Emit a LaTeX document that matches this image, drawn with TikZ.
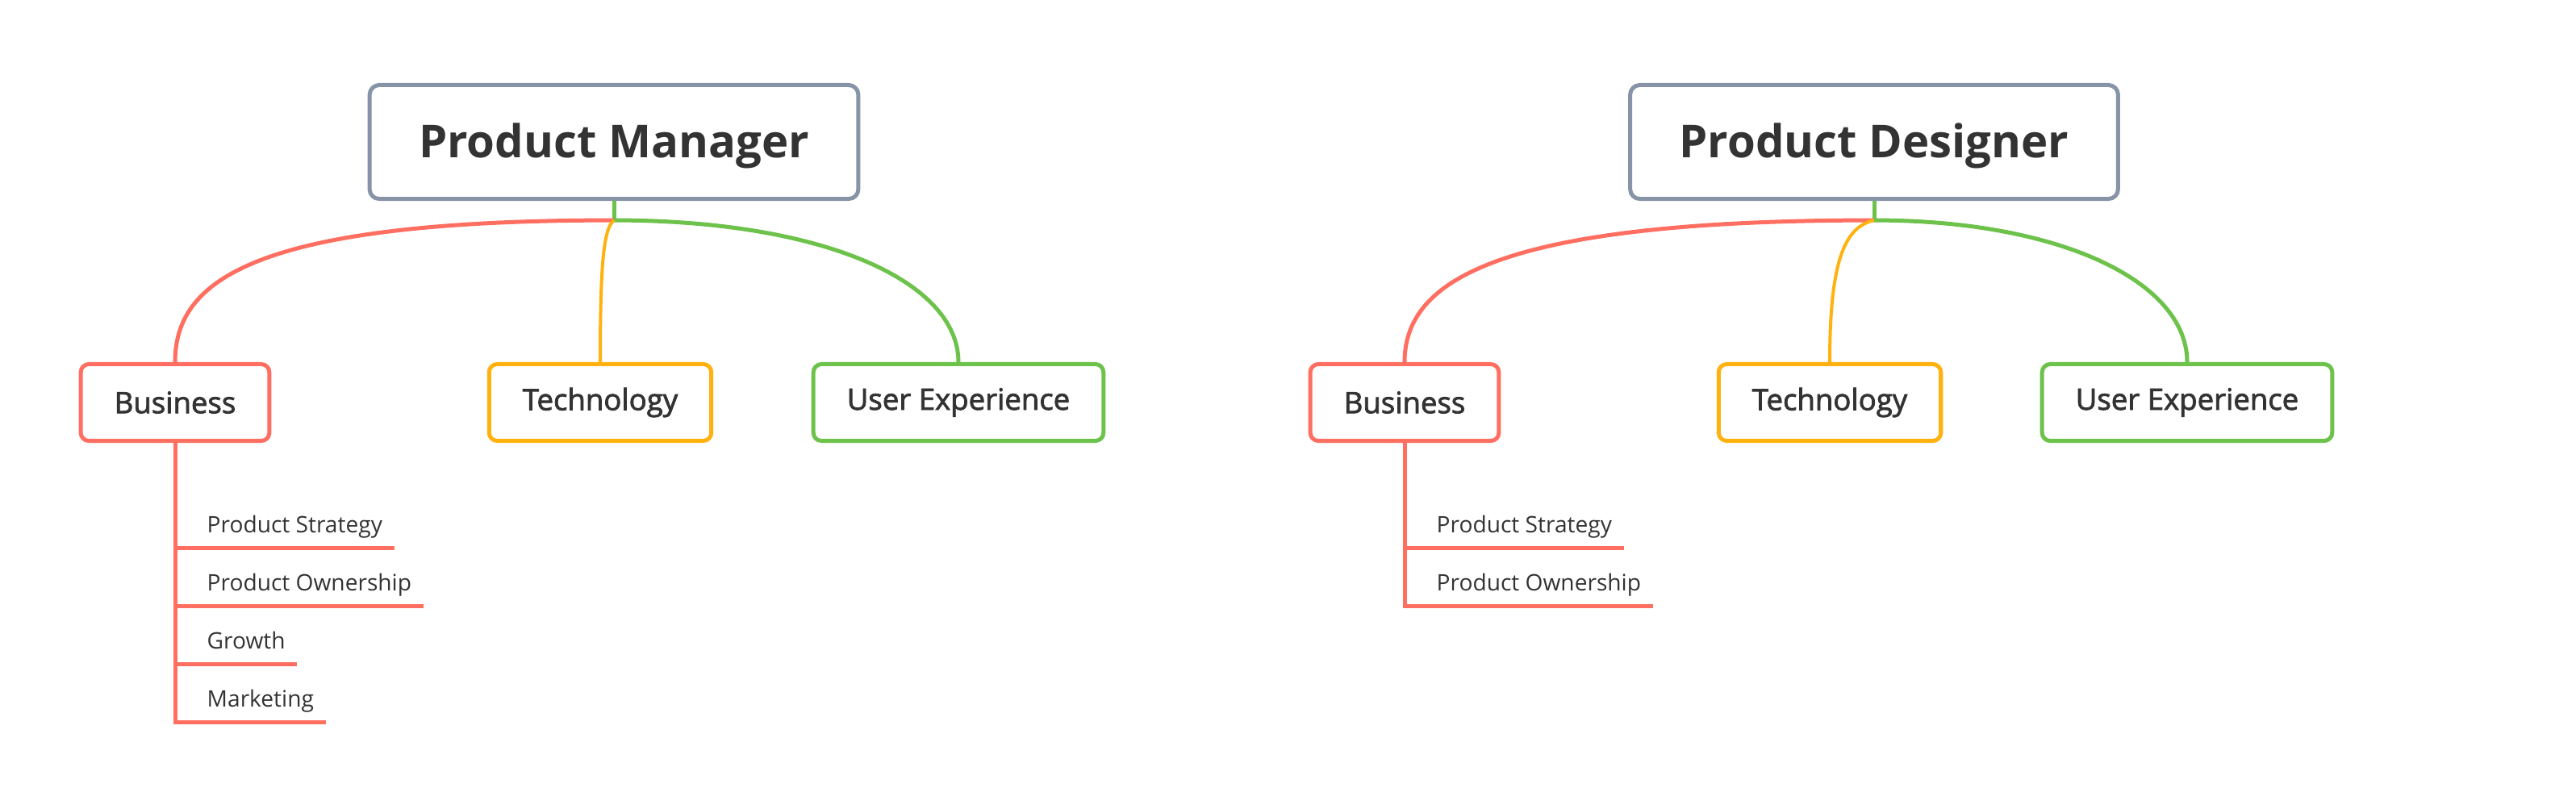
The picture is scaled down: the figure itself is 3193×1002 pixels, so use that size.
\documentclass[tikz,border=0pt]{standalone}
\usepackage{fontspec}
\setmainfont{Open Sans}
\newfontfamily\semifont[FakeBold=2.2]{Open Sans}
\usetikzlibrary{calc}
\definecolor{coral}{HTML}{FF6F61}
\definecolor{ambar}{HTML}{FFB20F}
\definecolor{verde}{HTML}{6CC24A}
\definecolor{pizarra}{HTML}{8793A6}
\definecolor{tinta}{HTML}{333333}
\tikzset{
  rolebox/.style={draw=pizarra, line width=0.05cm, rounded corners=0.12cm, fill=white,
    font=\bfseries\fontsize{16}{19}\selectfont, text=tinta, inner xsep=0.61cm,
    text depth=0.12em, minimum height=1.41cm},
  areabox/.style={line width=0.05cm, rounded corners=0.1cm, fill=white,
    font=\semifont\fontsize{10.4}{12}\selectfont, text=tinta, inner xsep=0.415cm, minimum height=0.95cm},
  leafnode/.style={anchor=base west, inner sep=0, font=\fontsize{8}{10}\selectfont, text=tinta},
  branch/.style={line width=0.05cm},
  twig/.style={draw=coral, line width=0.05cm},
}
\begin{document}
\begin{tikzpicture}[x=0.01cm, y=-0.01cm]
        \useasboundingbox (0,0) rectangle (3193,1002);
        % Product Manager
        \node[rolebox] (pm) at (761,176) {Product Manager};
        \node[areabox, draw=coral] (bizPM) at (217,499) {Business};
        \node[areabox, draw=ambar] (techPM) at (744,499) {Technology};
        \node[areabox, draw=verde] (uxPM) at (1188,499) {User Experience};
        \coordinate (hubPM) at ([yshift=-0.24cm]pm.south);
        \draw[branch, draw=verde] (pm.south) -- (hubPM);
        \draw[branch, draw=coral] (hubPM) .. controls +(-450,0) and +(0,-100) .. (bizPM.north);
        \draw[branch, draw=verde] (hubPM) .. controls +(260,0) and +(0,-100) .. (uxPM.north);
        \draw[branch, draw=ambar, line width=0.04cm] (hubPM) .. controls +(-12,10) and +(0,-130) .. (techPM.north);
        \foreach \t [count=\i] in {Product Strategy, Product Ownership, Growth, Marketing}
          \node[leafnode] (lfPM\i) at (256,588+72*\i) {\t};
        \foreach \i in {1,...,4}
          \draw[twig] (bizPM.south) |- ([xshift=0.14cm, yshift=-0.19cm]lfPM\i.base east);
        % Product Designer
        \node[rolebox] (pd) at (2323,176) {Product Designer};
        \node[areabox, draw=coral] (bizPD) at (1741,499) {Business};
        \node[areabox, draw=ambar] (techPD) at (2268,499) {Technology};
        \node[areabox, draw=verde] (uxPD) at (2711,499) {User Experience};
        \coordinate (hubPD) at ([yshift=-0.24cm]pd.south);
        \draw[branch, draw=verde] (pd.south) -- (hubPD);
        \draw[branch, draw=coral] (hubPD) .. controls +(-470,0) and +(0,-100) .. (bizPD.north);
        \draw[branch, draw=verde] (hubPD) .. controls +(230,0) and +(0,-100) .. (uxPD.north);
        \draw[branch, draw=ambar, line width=0.04cm] (hubPD) .. controls +(-35,8) and +(0,-130) .. (techPD.north);
        \foreach \t [count=\i] in {Product Strategy, Product Ownership}
          \node[leafnode] (lfPD\i) at (1780,588+72*\i) {\t};
        \foreach \i in {1,2}
          \draw[twig] (bizPD.south) |- ([xshift=0.14cm, yshift=-0.19cm]lfPD\i.base east);
      \end{tikzpicture}
\end{document}
